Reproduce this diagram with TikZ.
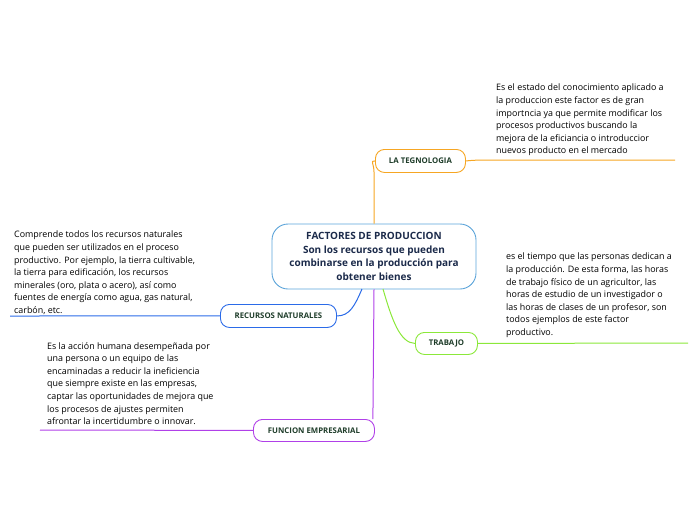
\documentclass[tikz,border=0pt]{standalone}
\usepackage{fontspec}
\setmainfont{Open Sans}
\definecolor{navy}{HTML}{1B2A4A}
\definecolor{dgreen}{HTML}{1F3D2A}
\definecolor{cblue}{HTML}{5BA3D9}
\definecolor{corange}{HTML}{F6A623}
\definecolor{cnat}{HTML}{2B6BE8}
\definecolor{cgreen}{HTML}{8BE83A}
\definecolor{cpurple}{HTML}{B040E8}
\begin{document}
\begin{tikzpicture}[x=1pt,y=-1pt,
  topic/.style={draw,line width=0.9pt,rounded corners=9pt,fill=white,font=\fontsize{7.8}{9}\selectfont\bfseries,text=dgreen,inner sep=0pt,anchor=north west},
  note/.style={anchor=north west,align=left,font=\fontsize{8.9}{12.6}\selectfont,text=black,inner sep=0pt},
  conn/.style={line width=1pt}]
\useasboundingbox (0,0) rectangle (696,520);
\node[draw=cblue,line width=0.9pt,rounded corners=16pt,minimum width=204pt,minimum height=65pt,align=center,font=\fontsize{10}{13.5}\selectfont\bfseries,text=navy,inner sep=0pt] (c) at (374,256.5) {FACTORES DE PRODUCCION\\Son los recursos que pueden\\combinarse en la producción para\\obtener bienes};
\node[topic,draw=corange,minimum width=90pt,minimum height=23pt] (t) at (375,149) {LA TEGNOLOGIA};
\node[topic,draw=cnat,minimum width=116pt,minimum height=23pt] (r) at (220,304) {RECURSOS NATURALES};
\node[topic,draw=cgreen,minimum width=62pt,minimum height=22pt] (w) at (415,332) {TRABAJO};
\node[topic,draw=cpurple,minimum width=121pt,minimum height=22pt] (f) at (253,419) {FUNCION EMPRESARIAL};
\coordinate (te) at (675,160); \coordinate (re) at (10,316);
\coordinate (we) at (688,343); \coordinate (fe) at (40,430);
\draw[conn,corange] (t.east) .. controls (475,160) and (480,160) .. (490,160) -- (te);
\draw[conn,corange] (c.north) -- (374,172) .. controls (374,164) and (370,160.5) .. (t.west);
\draw[conn,cnat] (r.west) -- (re);
\draw[conn,cnat] (362,289) .. controls (355,305) and (350,316) .. (r.east);
\draw[conn,cgreen] (w.east) -- (we);
\draw[conn,cgreen] (383,289) .. controls (392,320) and (400,343) .. (w.west);
\draw[conn,cpurple] (f.west) -- (fe);
\draw[conn,cpurple] (c.south) -- ([xshift=-2pt]f.north east);
\node[note] (tn) at (496,84) {Es el estado del conocimiento aplicado a\\la produccion este factor es de gran\\importncia ya que permite modificar los\\procesos productivos buscando la\\mejora de la eficiancia o introduccior\\nuevos producto en el mercado};
\node[note] (rn) at (14,231) {Comprende todos los recursos naturales\\que pueden ser utilizados en el proceso\\productivo. Por ejemplo, la tierra cultivable,\\la tierra para edificación, los recursos\\minerales (oro, plata o acero), así como\\fuentes de energía como agua, gas natural,\\carbón, etc.};
\node[note] (wn) at (506,253) {es el tiempo que las personas dedican a\\la producción. De esta forma, las horas\\de trabajo físico de un agricultor, las\\horas de estudio de un investigador o\\las horas de clases de un profesor, son\\todos ejemplos de este factor\\productivo.};
\node[note] (fn) at (47,342) {Es la acción humana desempeñada por\\una persona o un equipo de las\\encaminadas a reducir la ineficiencia\\que siempre existe en las empresas,\\captar las oportunidades de mejora que\\los procesos de ajustes permiten\\afrontar la incertidumbre o innovar.};
\end{tikzpicture}
\end{document}
